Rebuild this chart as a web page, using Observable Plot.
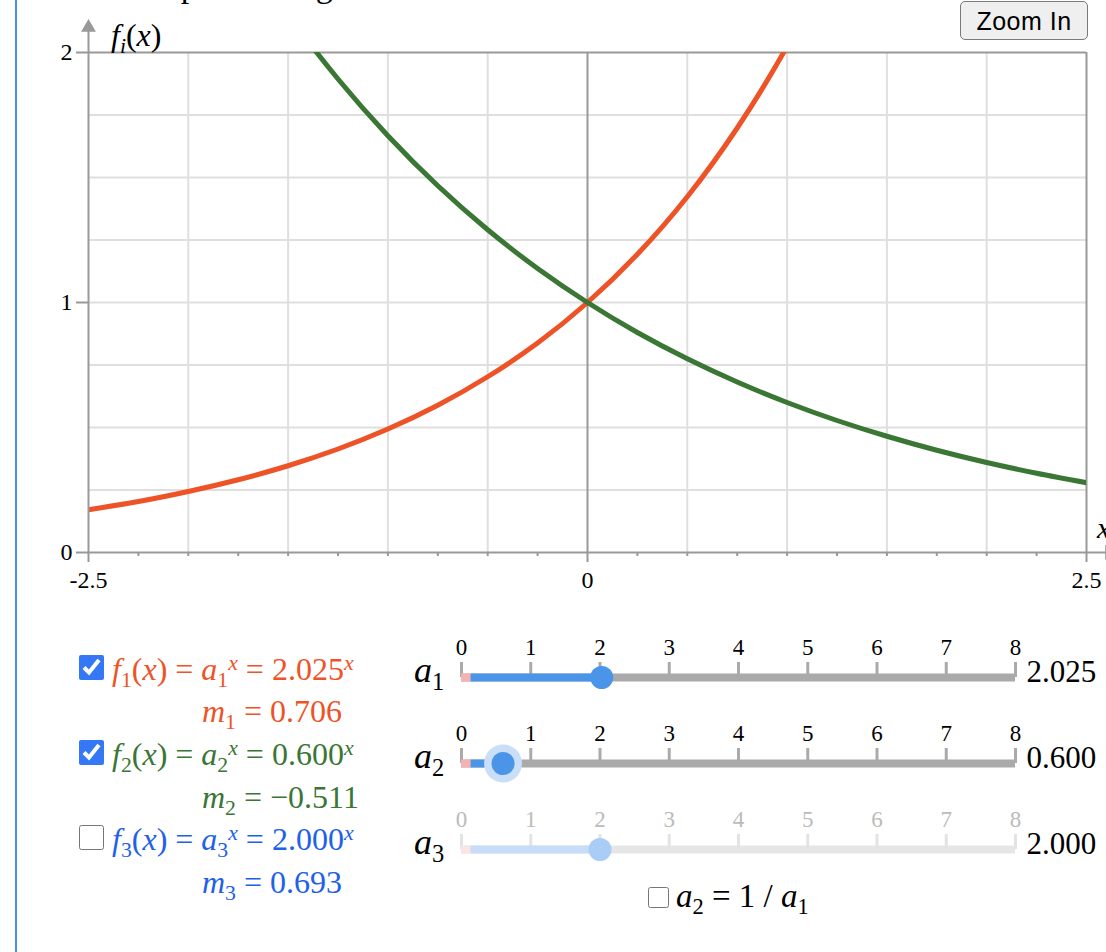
<!DOCTYPE html>
<html>
<head>
<meta charset="utf-8">
<script src="https://cdn.jsdelivr.net/npm/d3@7"></script>
<script src="https://cdn.jsdelivr.net/npm/@observablehq/plot@0.6"></script>
<style>
html, body { margin: 0; padding: 0; background: #fff; }
#root { position: relative; width: 1106px; height: 952px; overflow: hidden; font-family: "Liberation Serif", "DejaVu Serif", serif; color: #000; }
#root svg, #root svg text { font-family: "Liberation Serif", serif !important; }
.abs { position: absolute; }
.bar { left: 15px; top: 0; width: 2px; height: 952px; background: #4a90e2; }
.math { white-space: nowrap; }
.math sub, .math sup { font-size: 0.68em; line-height: 0; position: relative; vertical-align: baseline; }
.math sub { top: 0.32em; }
.math sup { top: -0.48em; }
.math i { font-style: italic; }
.btn { left: 960px; top: 1px; width: 128px; height: 39px; box-sizing: border-box; border: 1px solid #7a7a7a; border-radius: 5px; background: #efefef; font-family: "Liberation Sans", Arial, sans-serif; font-size: 25px; letter-spacing: 0.5px; color: #000; padding: 0; line-height: 36px; text-align: center; }
input.cb { margin: 0; padding: 0; accent-color: #3478f6; }
</style>
</head>
<body>
<div id="root"></div>
<script>
// ---------- data ----------
const xDomain = [-2.5, 2.5];
const yDomain = [0, 2];
const xs = [-2.5, -2.25, -2, -1.75, -1.5, -1.25, -1, -0.75, -0.5, -0.25, 0, 0.25, 0.5, 0.75, 1, 1.25, 1.5, 1.75, 2, 2.25, 2.5];
const f1 = [0.171, 0.204, 0.244, 0.291, 0.347, 0.414, 0.494, 0.589, 0.703, 0.838, 1.000, 1.193, 1.423, 1.698, 2.025, 2.416, 2.882, 3.438, 4.101, 4.892, 5.835];
const f2 = [3.586, 3.156, 2.778, 2.445, 2.152, 1.894, 1.667, 1.467, 1.291, 1.136, 1.000, 0.880, 0.775, 0.682, 0.600, 0.528, 0.465, 0.409, 0.360, 0.317, 0.279];
const xGrid = [-2, -1.5, -1, -0.5, 0.5, 1, 1.5, 2];
const yGrid = [0.25, 0.5, 0.75, 1, 1.25, 1.5, 1.75];
const xMinorTicks = [-2.25, -2, -1.75, -1.5, -1.25, -1, -0.75, -0.5, -0.25, 0.25, 0.5, 0.75, 1, 1.25, 1.5, 1.75, 2, 2.25];
const xMajorTicks = [-2.5, 0, 2.5];
const xTickLabels = ["-2.5", "0", "2.5"];
const yTicks = [0, 1, 2];
const yTickLabels = ["0", "1", "2"];
const yArrowTip = 2.1;
const xArrowTip = 2.615;

const fnIndex = [1, 2, 3];
const aValues = [2.025, 0.600, 2.000];
const aLabels = ["2.025", "0.600", "2.000"];
const mLabels = ["0.706", "\u22120.511", "0.693"];
const fnColors = ["#ee5327", "#3a7634", "#2160e8"];
const fnChecked = [true, true, false];
const fnShown = [true, true, false];

const sliderTicks = [0, 1, 2, 3, 4, 5, 6, 7, 8];
const sliderRange = [0, 8];
const sliderLow = 0.14;
const sliderEnabled = [true, true, false];
const sliderHalo = [false, true, false];

// ---------- styles ----------
const axisColor = "#999";
const gridColor = "#dfdfdf";
const serif = "Liberation Serif";

const root = document.getElementById("root");
function add(html) { root.insertAdjacentHTML("beforeend", html); }

// page decorations
add(`<div class="abs bar"></div>`);
add(`<div class="abs" style="left:143px;top:-31px;font-size:34px;line-height:34px;white-space:nowrap;">Exponential growth</div>`);
add(`<button class="abs btn">Zoom In</button>`);

// ---------- main chart ----------
const lineData = (ys) => xs.map((x, i) => ({x, y: ys[i]}));
const curves = [f1, f2];
const main = Plot.plot({
  width: 1106,
  height: 600,
  marginLeft: 88,
  marginRight: 20,
  marginTop: 52,
  marginBottom: 48,
  x: {domain: xDomain, label: null},
  y: {domain: yDomain, label: null},
  style: {fontFamily: serif, fontSize: "23px", color: "#000", background: "transparent", overflow: "visible"},
  marks: [
    Plot.ruleX(xGrid, {stroke: gridColor, strokeWidth: 2}),
    Plot.ruleY(yGrid, {x1: xDomain[0], x2: xDomain[1], stroke: gridColor, strokeWidth: 2}),
    Plot.ruleX([0], {y1: yDomain[0], y2: yDomain[1], stroke: axisColor, strokeWidth: 2}),
    Plot.ruleX([xDomain[1]], {y1: yDomain[0], y2: yDomain[1], stroke: axisColor, strokeWidth: 2}),
    Plot.ruleY([yDomain[1]], {x1: xDomain[0], x2: xDomain[1], stroke: axisColor, strokeWidth: 2}),
    ...curves.map((c, i) => fnShown[i] ? Plot.line(lineData(c), {x: "x", y: "y", stroke: fnColors[i], strokeWidth: 5, curve: "natural", clip: true}) : null).filter(Boolean),
    Plot.axisX({ticks: xMinorTicks, tickSize: 4, tickFormat: () => "", stroke: axisColor, strokeWidth: 2, label: null}),
    Plot.axisX({ticks: xMajorTicks, tickSize: 10, tickPadding: 8, tickFormat: (d) => xTickLabels[xMajorTicks.indexOf(d)], stroke: axisColor, strokeWidth: 2, fill: "#000", fontSize: 24, fontFamily: serif, label: null}),
    Plot.axisY({ticks: yTicks, tickSize: 12, tickPadding: 4, tickFormat: (d) => yTickLabels[yTicks.indexOf(d)], stroke: axisColor, strokeWidth: 2, fill: "#000", fontSize: 24, fontFamily: serif, label: null}),
    Plot.ruleX([xDomain[0]], {y1: yDomain[0], y2: yArrowTip, stroke: axisColor, strokeWidth: 2}),
    Plot.ruleY([yDomain[0]], {x1: xDomain[0], x2: xArrowTip, stroke: axisColor, strokeWidth: 2}),
    Plot.dot([{x: xDomain[0], y: yArrowTip}], {x: "x", y: "y", symbol: "triangle", r: 5.5, fill: axisColor, stroke: null}),
    Plot.dot([{x: xArrowTip, y: yDomain[0]}], {x: "x", y: "y", symbol: "triangle", r: 5.5, rotate: 90, fill: axisColor, stroke: null})
  ]
});
const mainWrap = document.createElement("div");
mainWrap.className = "abs";
mainWrap.style.left = "0px";
mainWrap.style.top = "0px";
mainWrap.appendChild(main);
root.appendChild(mainWrap);

add(`<div class="abs math" style="left:111px;top:19px;font-size:32px;line-height:32px;"><i>f</i><sub><i>i</i></sub>(<i>x</i>)</div>`);
add(`<div class="abs math" style="left:1097px;top:513px;font-size:30px;line-height:30px;"><i>x</i></div>`);

// ---------- left legend / formulas ----------
const fBase = [680, 765, 850];
const mBase = [722, 808, 893];
fnIndex.forEach((k, i) => {
  const col = fnColors[i];
  add(`<input type="checkbox" class="abs cb" ${fnChecked[i] ? "checked" : ""} style="left:79px;top:${fBase[i] - 25}px;width:25px;height:25px;">`);
  add(`<div class="abs math" style="left:112px;top:${fBase[i] - 27}px;font-size:32px;line-height:32px;color:${col};"><i>f</i><sub>${k}</sub>(<i>x</i>) = <i>a</i><sub>${k}</sub><sup><i>x</i></sup> = ${aLabels[i]}<sup><i>x</i></sup></div>`);
  add(`<div class="abs math" style="left:202px;top:${mBase[i] - 27}px;font-size:32px;line-height:32px;color:${col};"><i>m</i><sub>${k}</sub> = ${mLabels[i]}</div>`);
});

// ---------- sliders ----------
const trackY = [677, 763, 849];
fnIndex.forEach((k, i) => {
  const on = sliderEnabled[i];
  const c = on
    ? {track: "#aaaaaa", tick: "#aaaaaa", label: "#000", fill: "#4a95e8", knob: "#4a95e8", low: "#f4b3b3"}
    : {track: "#e6e6e6", tick: "#e3e3e3", label: "#bbbbbb", fill: "#c7ddf7", knob: "#a9cdf6", low: "#fbe4e4"};
  const v = aValues[i];
  const marks = [
    Plot.ruleY([0], {x1: sliderRange[0], x2: sliderRange[1], stroke: c.track, strokeWidth: 8}),
    Plot.ruleX(sliderTicks, {y1: 0, y2: 1, stroke: c.tick, strokeWidth: 3}),
    Plot.ruleY([0], {x1: sliderRange[0], x2: sliderLow, stroke: c.low, strokeWidth: 8}),
    Plot.ruleY([0], {x1: sliderLow, x2: v, stroke: c.fill, strokeWidth: 8}),
  ];
  if (sliderHalo[i]) marks.push(Plot.dot([v], {x: (d) => d, y: 0, r: 19, fill: "#c9def7", stroke: null}));
  marks.push(
    Plot.dot([v], {x: (d) => d, y: 0, r: 11.5, fill: c.knob, stroke: null}),
    Plot.text(sliderTicks, {x: (d) => d, y: 2, text: (d) => String(d), fill: c.label, fontSize: 23, fontFamily: serif, lineAnchor: "middle"}),
    Plot.text([aLabels[i]], {x: sliderRange[1], y: 0, dx: 11, dy: -5, text: (d) => d, textAnchor: "start", lineAnchor: "middle", fill: "#000", fontSize: 31, fontFamily: serif})
  );
  const sp = Plot.plot({
    width: 1106,
    height: 90,
    marginLeft: 461,
    marginRight: 91,
    marginTop: 0,
    marginBottom: 0,
    x: {domain: sliderRange, axis: null},
    y: {domain: [0, 1], range: [60, 45], axis: null},
    style: {fontFamily: serif, background: "transparent", overflow: "visible"},
    marks
  });
  const w = document.createElement("div");
  w.className = "abs";
  w.style.left = "0px";
  w.style.top = (trackY[i] - 60) + "px";
  w.appendChild(sp);
  root.appendChild(w);
  add(`<div class="abs math" style="left:414px;top:${trackY[i] + 6 - 31}px;font-size:36px;line-height:36px;"><i>a</i><sub>${k}</sub></div>`);
});

// bottom checkbox
add(`<input type="checkbox" class="abs cb" style="left:648px;top:887px;width:21px;height:21px;">`);
add(`<div class="abs math" style="left:676px;top:880px;font-size:33px;line-height:33px;"><i>a</i><sub>2</sub> = 1 / <i>a</i><sub>1</sub></div>`);
</script>
</body>
</html>
